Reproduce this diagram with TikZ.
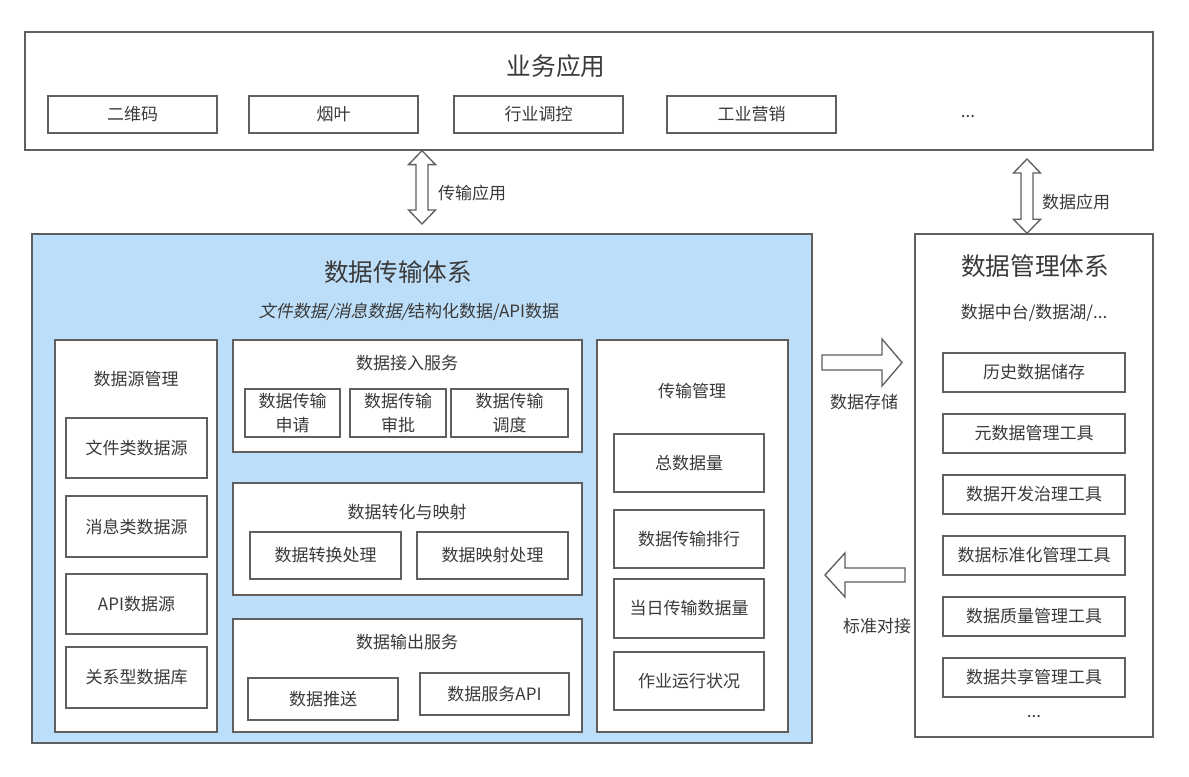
\documentclass[tikz,border=0pt]{standalone}
\usepackage{fontspec}
\setmainfont{Noto Sans CJK SC}
\newfontfamily\slantfont{Noto Sans CJK SC}[FakeSlant=0.2]
\usetikzlibrary{fit,calc}
\definecolor{linec}{HTML}{5F5F5F}
\definecolor{txtc}{HTML}{3A3A3A}
\definecolor{bluef}{HTML}{BDDEF8}
\newcommand\bx[6]{\node[box, fit={(#2,#3) (#4,#5)}] (#1) {};
  \node[align=center, inner sep=0pt] (#1-t) at (#1.center) {#6};}
\newcommand\vdarrow[2]{\draw[barrow] let \p1=(#1), \p2=(#2) in
 (\x1,\y1) -- ([shift={(13.5,14)}]\x1,\y1) -- ([shift={(6,14)}]\x1,\y1)
 -- ([shift={(6,-14)}]\x1,\y2) -- ([shift={(13.5,-14)}]\x1,\y2) -- (\x1,\y2)
 -- ([shift={(-13.5,-14)}]\x1,\y2) -- ([shift={(-6,-14)}]\x1,\y2)
 -- ([shift={(-6,14)}]\x1,\y1) -- ([shift={(-13.5,14)}]\x1,\y1) -- cycle;}
\newcommand\hsarrow[5]{\draw[barrow] let \p1=(#1), \p2=(#2) in
 ([shift={(0,-#3)}]\x1,\y1) -- ([shift={({-20*#5},-#3)}]\x2,\y2)
 -- ([shift={({-20*#5},-#4)}]\x2,\y2) -- (\x2,\y2)
 -- ([shift={({-20*#5},#4)}]\x2,\y2) -- ([shift={({-20*#5},#3)}]\x2,\y2)
 -- ([shift={(0,#3)}]\x1,\y1) -- cycle;}
\begin{document}
\begin{tikzpicture}[x=0.75pt,y=-0.75pt,
  every node/.style={text=txtc, font=\fontsize{12.75}{18}\selectfont},
  box/.style={draw=linec, line width=1pt, fill=white, inner sep=0pt},
  ttl/.style={font=\fontsize{18.5}{22}\selectfont},
  lbl/.style={inner sep=0pt},
  barrow/.style={draw=linec, line width=1pt, fill=white, line join=miter}]
\fill[white] (0,0) rectangle (1189,777);
\useasboundingbox (0,0) rectangle (1189,777);

% top: business applications
\bx{top}{25}{32}{1153}{150}{}
\node[ttl] (toptitle) at (556,66) {业务应用};
\bx{qr}{48}{96}{217}{133}{二维码}
\bx{yy}{249}{96}{418}{133}{烟叶}
\bx{hy}{454}{96}{623}{133}{行业调控}
\bx{gy}{667}{96}{836}{133}{工业营销}
\node[lbl] (topdots) at (968,117) {...};

% transfer system
\node[box, fill=bluef, fit={(32,234) (812,743)}] (blue) {};
\node[ttl] (bluetitle) at (398,272) {数据传输体系};
\node (bluesub) at (409,312) {{\slantfont 文件数据/消息数据/}结构化数据/API数据};

% data source management
\bx{srcm}{55}{340}{217}{732}{}
\node (srcmt) at (136,379) {数据源管理};
\bx{s1}{66}{418}{207}{478}{文件类数据源}
\bx{s2}{66}{496}{207}{557}{消息类数据源}
\bx{s3}{66}{574}{207}{634}{API数据源}
\bx{s4}{66}{647}{207}{708}{关系型数据库}

% access service
\bx{acc}{233}{340}{582}{452}{}
\node (acct) at (407,363) {数据接入服务};
\bx{a1}{245}{389}{340}{437}{数据传输\\申请}
\bx{a2}{350}{389}{446}{437}{数据传输\\审批}
\bx{a3}{451}{389}{568}{437}{数据传输\\调度}

% conversion and mapping
\bx{cvt}{233}{483}{582}{595}{}
\node (cvtt) at (407,512) {数据转化与映射};
\bx{c1}{250}{532}{401}{579}{数据转换处理}
\bx{c2}{417}{532}{568}{579}{数据映射处理}

% output service
\bx{out}{233}{619}{582}{732}{}
\node (outt) at (407,642) {数据输出服务};
\bx{o1}{248}{678}{398}{720}{数据推送}
\bx{o2}{420}{673}{569}{715}{数据服务API}

% transfer management
\bx{tm}{597}{340}{788}{732}{}
\node (tmt) at (692,391) {传输管理};
\bx{t1}{614}{434}{764}{492}{总数据量}
\bx{t2}{614}{510}{764}{568}{数据传输排行}
\bx{t3}{614}{579}{764}{638}{当日传输数据量}
\bx{t4}{614}{652}{764}{710}{作业运行状况}

% data management system
\bx{dm}{915}{234}{1153}{737}{}
\node[ttl] (dmt) at (1035,266) {数据管理体系};
\node (dmsub) at (1034,313) {数据中台/数据湖/...};
\bx{d1}{943}{353}{1125}{392}{历史数据储存}
\bx{d2}{943}{414}{1125}{453}{元数据管理工具}
\bx{d3}{943}{475}{1125}{514}{数据开发治理工具}
\bx{d4}{943}{536}{1125}{575}{数据标准化管理工具}
\bx{d5}{943}{597}{1125}{636}{数据质量管理工具}
\bx{d6}{943}{658}{1125}{697}{数据共享管理工具}
\node[lbl] (dmdots) at (1034,717) {...};

% connectors (block arrows)
\coordinate (v1t) at (top.south -| 422,0);
\coordinate (v1b) at (422,224);
\vdarrow{v1t}{v1b}
\node (l1) at (472,193) {传输应用};

\coordinate (v2t) at (1027,159);
\coordinate (v2b) at (dm.north -| v2t);
\vdarrow{v2t}{v2b}
\node (l2) at (1076,202) {数据应用};

\coordinate (h1s) at (822,362.5);
\coordinate (h1e) at (902,362.5);
\hsarrow{h1s}{h1e}{7.5}{23.5}{1}
\node (l3) at (864,402) {数据存储};

\coordinate (h2s) at (905,575);
\coordinate (h2e) at (825,575);
\hsarrow{h2s}{h2e}{7}{22}{-1}
\node (l4) at (877,626) {标准对接};
\end{tikzpicture}
\end{document}
